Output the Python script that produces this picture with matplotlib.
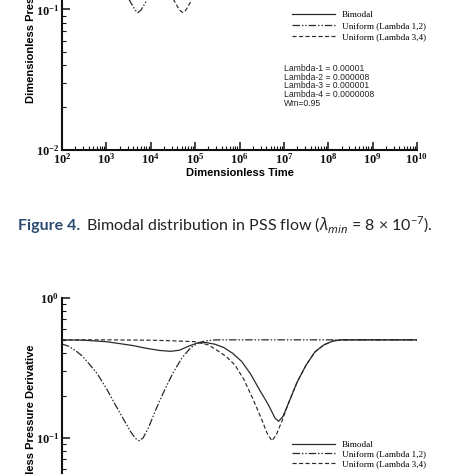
import numpy as np
import matplotlib
matplotlib.use('Agg')
import matplotlib.pyplot as plt
from matplotlib.lines import Line2D
from matplotlib.ticker import LogLocator, FuncFormatter, NullFormatter

plt.rcParams['mathtext.fontset'] = 'custom'
plt.rcParams['mathtext.rm'] = 'Lato'
plt.rcParams['mathtext.it'] = 'Noto Sans:italic'
plt.rcParams['mathtext.bf'] = 'Liberation Serif:bold'

# ---- data (log10 of time, derivative value) ----
xlabel = 'Dimensionless Time'
ylabel = 'Dimensionless Pressure Derivative'
legend_labels = ['Bimodal', 'Uniform (Lambda 1,2)', 'Uniform (Lambda 3,4)']
lambda_notes = ['Lambda-1 = 0.00001', 'Lambda-2 = 0.000008', 'Lambda-3 = 0.000001',
                'Lambda-4 = 0.0000008', 'Wm=0.95']
caption_head = 'Figure 4.'
caption_rest = r'Bimodal distribution in PSS flow ($\lambda_{min}$ = 8 × 10$^{-7}$).'

# upper panel (PSS flow) - only the bottoms of the two uniform dips show
pss_u12_logt = [3.30, 3.45, 3.55, 3.65, 3.71, 3.78, 3.88, 4.00, 4.15]
pss_u12_pd = [0.160, 0.128, 0.112, 0.099, 0.095, 0.099, 0.112, 0.135, 0.170]
pss_u34_logt = [4.30, 4.45, 4.55, 4.65, 4.72, 4.79, 4.89, 5.00, 5.15]
pss_u34_pd = [0.160, 0.128, 0.112, 0.099, 0.095, 0.099, 0.112, 0.135, 0.170]

# lower panel
bim_logt = [2.0, 2.5, 3.0, 3.3, 3.6, 3.9, 4.2, 4.45, 4.65, 4.85, 5.05, 5.25, 5.45, 5.65,
            5.85, 6.05, 6.25, 6.45, 6.65, 6.8, 6.88, 6.98, 7.1, 7.3, 7.5, 7.7, 7.9, 8.1, 8.3, 10.0]
bim_pd = [0.5, 0.497, 0.485, 0.47, 0.455, 0.435, 0.42, 0.414, 0.422, 0.45, 0.475, 0.478, 0.465, 0.44,
          0.40, 0.35, 0.285, 0.22, 0.172, 0.138, 0.131, 0.142, 0.175, 0.25, 0.33, 0.41, 0.46, 0.49, 0.5, 0.5]
u12_logt = [2.0, 2.15, 2.3, 2.45, 2.6, 2.8, 3.0, 3.2, 3.4, 3.55, 3.65, 3.74, 3.83, 3.95,
            4.1, 4.3, 4.5, 4.7, 4.9, 5.1, 5.3, 5.5, 10.0]
u12_pd = [0.467, 0.45, 0.42, 0.385, 0.34, 0.285, 0.225, 0.172, 0.133, 0.110, 0.099, 0.095, 0.100, 0.118,
          0.155, 0.215, 0.29, 0.37, 0.44, 0.48, 0.495, 0.5, 0.5]
u34_logt = [2.0, 3.0, 4.0, 4.5, 5.0, 5.3, 5.5, 5.7, 5.9, 6.1, 6.3, 6.5, 6.62, 6.73, 6.83,
            6.95, 7.1, 7.3, 7.5, 7.7, 7.9, 8.1, 8.3, 10.0]
u34_pd = [0.5, 0.5, 0.497, 0.492, 0.485, 0.46, 0.42, 0.38, 0.33, 0.26, 0.19, 0.135, 0.108, 0.095, 0.105,
          0.13, 0.175, 0.25, 0.33, 0.41, 0.46, 0.49, 0.5, 0.5]

line_col = '#2a2a2a'
styles = [dict(color=line_col, lw=0.9, ls='-'),
          dict(color=line_col, lw=0.9, dashes=(6, 1.5, 1.2, 1.5, 1.2, 1.5)),
          dict(color=line_col, lw=0.85, dashes=(3.5, 2))]

W = 474.0
fig = plt.figure(figsize=(4.74, 4.74), dpi=100)

def px(x, y):
    return x / W, 1 - y / W

def make_axes(top_px):
    # 10^0 at top_px, two decades of 140 px each
    l, t = px(62, top_px)
    _, b = px(62, top_px + 280)
    ax = fig.add_axes([l, b, 355 / W, t - b])
    ax.set_xscale('log')
    ax.set_yscale('log')
    ax.set_xlim(1e2, 1e10)
    ax.set_ylim(1e-2, 1e0)
    for s in ['top', 'right']:
        ax.spines[s].set_visible(False)
    for s in ['left', 'bottom']:
        ax.spines[s].set_linewidth(1.5)
        ax.spines[s].set_color('#111111')
    ax.xaxis.set_major_locator(LogLocator(base=10, numticks=20))
    ax.xaxis.set_minor_locator(LogLocator(base=10, subs=np.arange(2, 10), numticks=20))
    ax.yaxis.set_minor_locator(LogLocator(base=10, subs=np.arange(2, 10), numticks=20))
    fmt = FuncFormatter(lambda v, p: r'$\mathbf{10^{%d}}$' % round(np.log10(v)))
    ax.xaxis.set_major_formatter(fmt)
    ax.yaxis.set_major_formatter(fmt)
    ax.xaxis.set_minor_formatter(NullFormatter())
    ax.yaxis.set_minor_formatter(NullFormatter())
    ax.tick_params(which='major', direction='in', length=6, width=1.1, labelsize=9,
                   pad=2, colors='#111111')
    ax.tick_params(which='minor', direction='in', length=3, width=0.8, colors='#111111')
    ax.set_xlabel(xlabel, fontfamily='Liberation Sans', fontweight='bold', fontsize=8, labelpad=1)
    ax.set_ylabel(ylabel, fontfamily='Liberation Sans', fontweight='bold', fontsize=8)
    ax.yaxis.set_label_coords(-0.0746, 0.5)
    return ax

def add_legend(ax, top_px, spacing):
    handles = [Line2D([], [], **st) for st in styles]
    x, y = px(292, top_px)
    ax.legend(handles, legend_labels, loc='upper left', bbox_to_anchor=(x, y),
              bbox_transform=fig.transFigure, frameon=False, borderpad=0, borderaxespad=0,
              handlelength=4.7, handletextpad=0.75, labelspacing=spacing,
              prop={'family': 'Liberation Serif', 'size': 6.6})

# upper panel
ax1 = make_axes(9.5 - 140)
ax1.plot(10 ** np.array(pss_u12_logt), pss_u12_pd, **styles[1])
ax1.plot(10 ** np.array(pss_u34_logt), pss_u34_pd, **styles[2])
add_legend(ax1, 11.0, 0.25)
tx, ty = px(284, 64)
fig.text(tx, ty, '\n'.join(lambda_notes), ha='left', va='top', fontfamily='Liberation Sans',
         fontsize=6.2, linespacing=0.95, color='#222222')

# lower panel
ax2 = make_axes(297.7)
ax2.plot(10 ** np.array(bim_logt), bim_pd, **styles[0])
ax2.plot(10 ** np.array(u12_logt), u12_pd, **styles[1])
ax2.plot(10 ** np.array(u34_logt), u34_pd, **styles[2])
add_legend(ax2, 440.5, 0.14)

# caption between the panels
cx, cy = px(18, 230)
head = fig.text(cx, cy, caption_head, fontfamily='Lato', fontweight='bold', fontsize=11.5,
                color='#2b4c70', va='baseline', ha='left')
fig.canvas.draw()
bb = head.get_window_extent(fig.canvas.get_renderer())
fig.text((bb.x1 + 6) / W, cy, caption_rest, fontfamily='Lato', fontsize=11.5,
         color='#222222', va='baseline', ha='left')

fig.savefig('out.png', dpi=100)
